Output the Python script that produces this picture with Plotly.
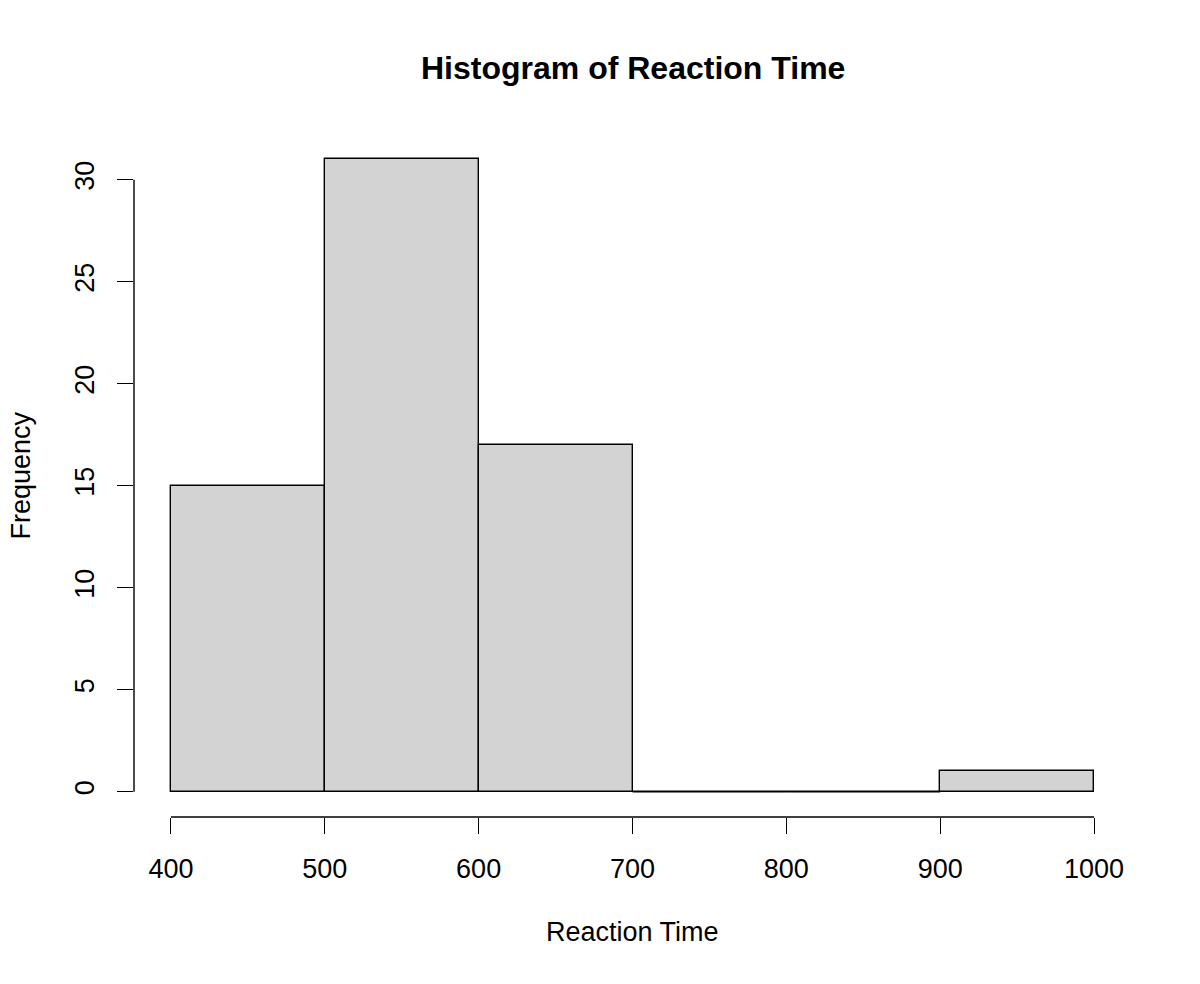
import plotly.graph_objects as go

# Data
bin_edges = [400, 500, 600, 700, 800, 900, 1000]
counts = [15, 31, 17, 0, 0, 1]
x_ticks = [400, 500, 600, 700, 800, 900, 1000]
y_ticks = [0, 5, 10, 15, 20, 25, 30]
title_text = "Histogram of Reaction Time"
x_label = "Reaction Time"
y_label = "Frequency"

FONT = "Liberation Sans, Arial, Helvetica, sans-serif"
centers = [(bin_edges[i] + bin_edges[i + 1]) / 2 for i in range(len(counts))]
widths = [bin_edges[i + 1] - bin_edges[i] for i in range(len(counts))]

fig = go.Figure()
fig.add_trace(go.Bar(
    x=centers, y=counts, width=widths,
    marker=dict(color="#D3D3D3", line=dict(color="black", width=1.4)),
    hoverinfo="x+y", showlegend=False,
))

# R histogram draws zero-height bins as a flat line at 0
shapes = []
for i, c in enumerate(counts):
    if c == 0:
        shapes.append(dict(type="line", xref="x", yref="y",
                           x0=bin_edges[i], x1=bin_edges[i + 1], y0=0, y1=0,
                           line=dict(color="black", width=1.4)))

# R-style axis lines spanning only the tick range
shapes.append(dict(type="line", xref="x", yref="paper",
                   x0=x_ticks[0], x1=x_ticks[-1], y0=0, y1=0,
                   line=dict(color="black", width=1.4)))
shapes.append(dict(type="line", xref="paper", yref="y",
                   x0=0, x1=0, y0=y_ticks[0], y1=y_ticks[-1],
                   line=dict(color="black", width=1.4)))

xr = x_ticks[-1] - x_ticks[0]
yr_max = max(counts)
fig.update_layout(
    width=1200, height=984,
    margin=dict(l=134, r=69, t=134, b=167),
    paper_bgcolor="white", plot_bgcolor="white",
    font=dict(family=FONT, size=27, color="black"),
    bargap=0,
    shapes=shapes,
    xaxis=dict(
        range=[x_ticks[0] - 0.04 * xr, x_ticks[-1] + 0.04 * xr],
        tickvals=x_ticks, ticktext=[str(v) for v in x_ticks],
        ticks="outside", ticklen=16, tickwidth=1.4, tickcolor="black",
        showgrid=False, zeroline=False, showline=False,
        ticklabelstandoff=12,
        tickfont=dict(family=FONT, size=27, color="black"),
    ),
    yaxis=dict(
        range=[-0.04 * yr_max, yr_max * 1.04],
        tickvals=y_ticks, ticktext=[str(v) for v in y_ticks],
        tickangle=-90,
        ticks="outside", ticklen=16, tickwidth=1.4, tickcolor="black",
        showgrid=False, zeroline=False, showline=False,
        ticklabelstandoff=12,
        tickfont=dict(family=FONT, size=27, color="black"),
    ),
    annotations=[
        dict(text="<b>" + title_text + "</b>", xref="paper", yref="paper",
             x=0.5, y=1, yshift=66, xanchor="center", yanchor="middle",
             showarrow=False, font=dict(family=FONT, size=32, color="black")),
        dict(text=x_label, xref="paper", yref="paper",
             x=0.5, y=0, yshift=-115, xanchor="center", yanchor="middle",
             showarrow=False, font=dict(family=FONT, size=27, color="black")),
        dict(text=y_label, xref="paper", yref="paper", textangle=-90,
             x=0, y=0.5, xshift=-114, xanchor="center", yanchor="middle",
             showarrow=False, font=dict(family=FONT, size=27, color="black")),
    ],
)

fig.write_html("out.html")
